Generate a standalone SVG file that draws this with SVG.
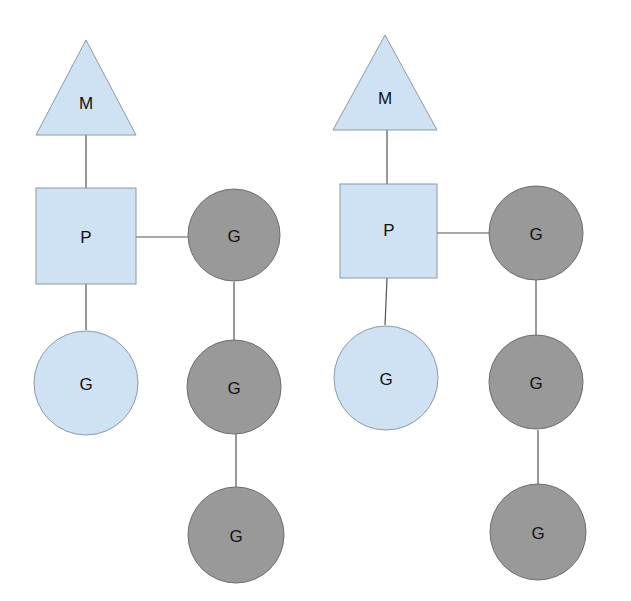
<svg xmlns="http://www.w3.org/2000/svg" width="631" height="601" viewBox="0 0 631 601">
<style>
.l{fill:#cfe2f3;stroke:#8a9aa8;stroke-width:1}
.g{fill:#999999;stroke:#6e6e6e;stroke-width:1}
.c{stroke:#555;stroke-width:1.2;fill:none}
text{font-family:"Liberation Sans",Arial,sans-serif;font-size:17px;fill:#111;text-anchor:middle;dominant-baseline:central}
</style>
<rect width="631" height="601" fill="#fff"/>
<g id="connectors">
<path class="c" d="M86 135V188M86 284V330M136 237H188M234 282V340M236 434V488"/>
<path class="c" d="M387 130V184M387 278L385 325M437 233H490M536 280V336M538 430V485"/>
</g>
<g id="m1"><polygon class="l" points="86,40 136,135 36,135"/><text x="86" y="103">M</text></g>
<g id="p1"><rect class="l" x="36" y="188" width="100" height="96"/><text x="86" y="237">P</text></g>
<g id="g1"><circle class="l" cx="86" cy="383" r="52"/><text x="86" y="384">G</text></g>
<g id="g2"><circle class="g" cx="234" cy="235" r="46"/><text x="234" y="236">G</text></g>
<g id="g3"><circle class="g" cx="234" cy="387" r="47"/><text x="234" y="388">G</text></g>
<g id="g4"><circle class="g" cx="236" cy="535" r="48"/><text x="236" y="536">G</text></g>
<g id="m2"><polygon class="l" points="385,35 437,130 333,130"/><text x="385" y="98">M</text></g>
<g id="p2"><rect class="l" x="340" y="184" width="97" height="94"/><text x="389" y="230">P</text></g>
<g id="g5"><circle class="l" cx="386" cy="378" r="52"/><text x="386" y="379">G</text></g>
<g id="g6"><circle class="g" cx="536" cy="233" r="47"/><text x="536" y="234">G</text></g>
<g id="g7"><circle class="g" cx="536" cy="382" r="47"/><text x="536" y="383">G</text></g>
<g id="g8"><circle class="g" cx="538" cy="532" r="48"/><text x="538" y="533">G</text></g>
</svg>
